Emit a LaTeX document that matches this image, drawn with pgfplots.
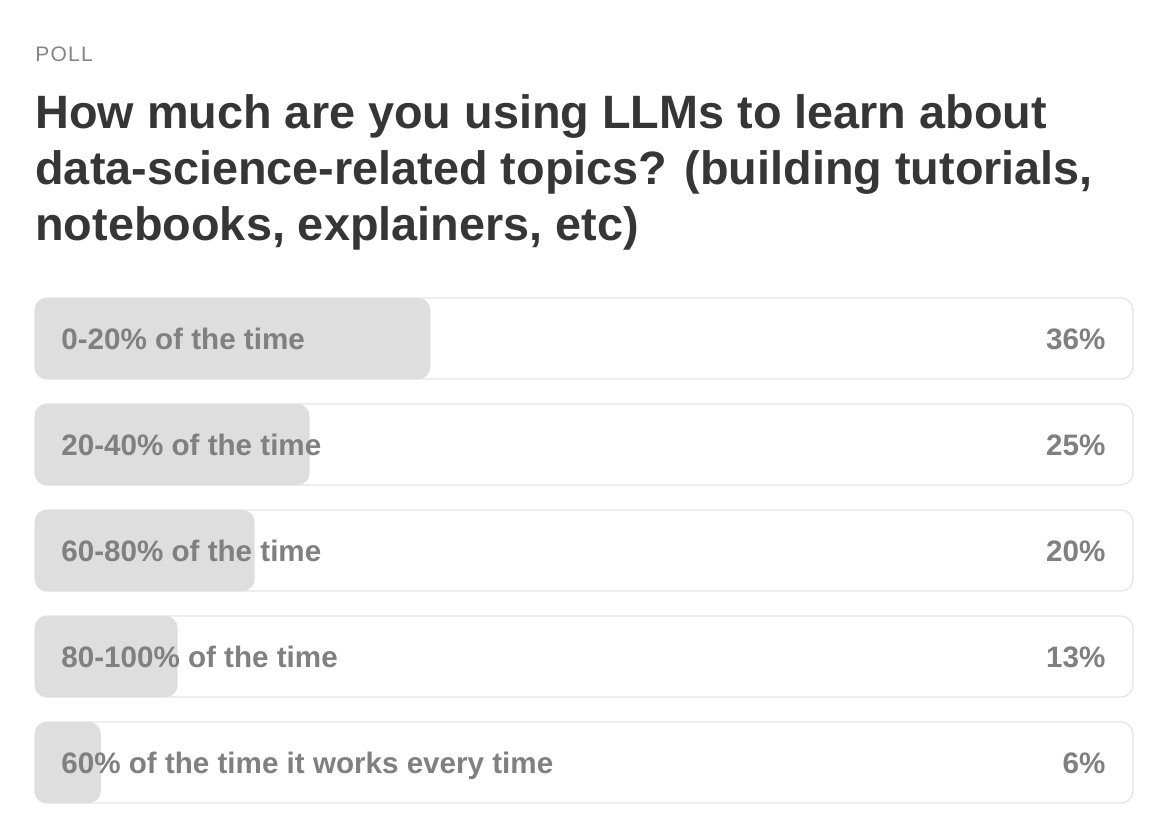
\documentclass[border=0pt]{standalone}
\usepackage{pgfplots}
\pgfplotsset{compat=1.18}
\usepackage{fontspec}
\setmainfont{Liberation Sans}

\definecolor{titlegray}{HTML}{363636}
\definecolor{pollgray}{HTML}{858585}
\definecolor{labelgray}{HTML}{808080}
\definecolor{barfill}{HTML}{DEDEDE}
\definecolor{boxline}{HTML}{E4E4E4}

% 1 px of the reference = 0.5 pt
\begin{document}
\begin{tikzpicture}
\useasboundingbox (0,0) rectangle (577pt,-414pt);

\node[anchor=base west, inner sep=0pt, text=pollgray,
      font=\fontsize{10.5}{12}\selectfont\addfontfeature{LetterSpace=6}]
  at (17.5pt,-31pt) {POLL};

\begin{scope}[every node/.style={anchor=base west, inner sep=0pt, text=titlegray,
                                 font=\fontsize{23.4}{28}\selectfont\bfseries}]
\node at (17.5pt,-64.5pt) {How much are you using LLMs to learn about};
\node at (17.5pt,-92.5pt) {data-science-related topics? (building tutorials,};
\node at (17.5pt,-120.5pt) {notebooks, explainers, etc)};
\end{scope}

\begin{axis}[
    at={(17.5pt,-149pt)}, anchor=north west,
    scale only axis,
    width=549pt, height=252.5pt,
    xmin=0, xmax=100,
    ymin=0.618, ymax=5.382,
    y dir=reverse,
    clip=false,
    axis on top,
    axis line style={draw=none},
    tick style={draw=none},
    xtick=\empty,
    ytick={1,2,3,4,5},
    yticklabels={0-20\% of the time, 20-40\% of the time, 60-80\% of the time,
                 80-100\% of the time, 60\% of the time it works every time},
    yticklabel style={anchor=base west, inner sep=0pt, xshift=13pt, yshift=-5.3pt,
                      text=labelgray, font=\fontsize{14.8}{18}\selectfont\bfseries},
    /pgf/number format/assume math mode=true,
    ]

% outline of each row, carrying the share as its label
\addplot[xbar, bar shift=0pt, bar width=40.5pt, rounded corners=6pt,
         fill=white, draw=boxline, line width=0.6pt,
         point meta=explicit,
         nodes near coords={\pgfmathprintnumber{\pgfplotspointmeta}\%},
         nodes near coords style={anchor=base east, inner sep=0pt,
                                  xshift=-13.5pt, yshift=-5.3pt,
                                  text=labelgray, font=\fontsize{14.8}{18}\selectfont\bfseries}]
  coordinates {(100,1) [36] (100,2) [25] (100,3) [20] (100,4) [13] (100,5) [6]};

% share of votes
\addplot[xbar, bar shift=0pt, bar width=40.5pt, rounded corners=6pt,
         fill=barfill, draw=none]
  coordinates {(36,1) (25,2) (20,3) (13,4) (6,5)};

\end{axis}
\end{tikzpicture}
\end{document}
